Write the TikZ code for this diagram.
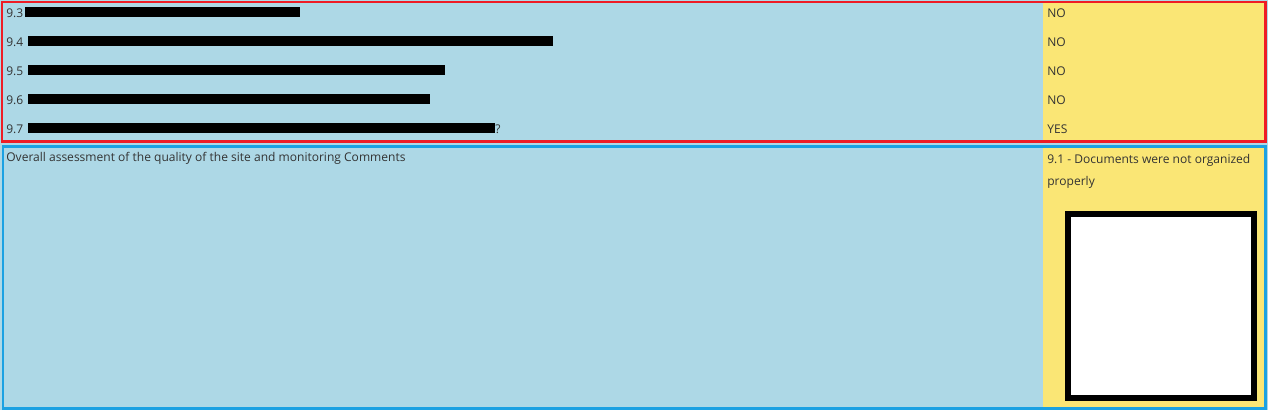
\documentclass[tikz,border=0pt]{standalone}
\usepackage{fontspec}
\setmainfont{Open Sans}
\definecolor{cellblue}{HTML}{ADD8E6}
\definecolor{cellyellow}{HTML}{FAE675}
\definecolor{framered}{HTML}{EE1C25}
\definecolor{frameblue}{HTML}{1BA1E2}
\definecolor{textgray}{HTML}{333333}
\tikzset{
  celltext/.style={anchor=west,inner sep=0pt,text=textgray,font=\fontsize{6.85}{8}\selectfont},
  redact/.style={line width=5.5pt,black}
}
\begin{document}
\begin{tikzpicture}[x=0.02cm,y=-0.02cm]
\useasboundingbox (0,0) rectangle (1268,410);
\fill[cellblue] (0,0) rectangle (1268,410);
\fill[cellyellow] (1043,3) rectangle (1265,141);
\fill[cellyellow] (1043,146) rectangle (1265,408);
\draw[framered,line width=1.7pt] (2,2) rectangle (1265,141);
\draw[frameblue,line width=1.7pt] (3,146) rectangle (1265,408);

\node[celltext] (q3) at (6,13) {9.3};
\node[celltext] (q4) at (6,42) {9.4};
\node[celltext] (q5) at (6,71) {9.5};
\node[celltext] (q6) at (6,100) {9.6};
\node[celltext] (q7) at (6,129) {9.7};
\draw[redact] (25,12) -- (300,12);
\draw[redact] (28,41) -- (553,41);
\draw[redact] (28,70) -- (445,70);
\draw[redact] (28,99) -- (430,99);
\draw[redact] (28,128) -- (495,128);
\node[celltext] (qm) at (495,129) {?};

\node[celltext] (a3) at (1047,13) {NO};
\node[celltext] (a4) at (1047,42) {NO};
\node[celltext] (a5) at (1047,71) {NO};
\node[celltext] (a6) at (1047,100) {NO};
\node[celltext] (a7) at (1047,129) {YES};

\node[celltext] (overall) at (6,158) {Overall assessment of the quality of the site and monitoring Comments};
\node[celltext] (c1) at (1047,160) {9.1 - Documents were not organized};
\node[celltext] (c2) at (1047,182) {properly};
\draw[black,line width=3.4pt,fill=white] (1068,214) rectangle (1254,398);
\end{tikzpicture}
\end{document}
